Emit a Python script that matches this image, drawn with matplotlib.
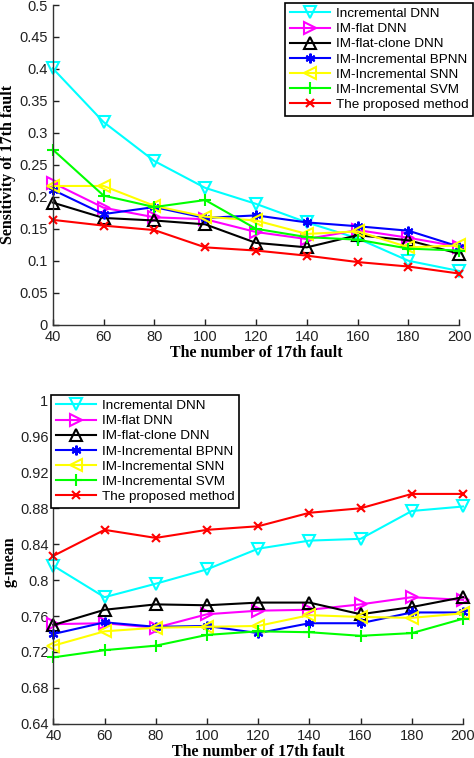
import matplotlib
matplotlib.use("Agg")
import matplotlib.pyplot as plt

x = [40, 60, 80, 100, 120, 140, 160, 180, 200]
methods = ["Incremental DNN", "IM-flat DNN", "IM-flat-clone DNN", "IM-Incremental BPNN",
           "IM-Incremental SNN", "IM-Incremental SVM", "The proposed method"]

sens_inc_dnn = [0.401, 0.317, 0.256, 0.214, 0.189, 0.160, 0.135, 0.100, 0.084]
sens_flat_dnn = [0.222, 0.183, 0.168, 0.165, 0.145, 0.134, 0.148, 0.136, 0.122]
sens_clone_dnn = [0.191, 0.167, 0.163, 0.157, 0.128, 0.121, 0.140, 0.132, 0.111]
sens_bpnn = [0.211, 0.173, 0.184, 0.167, 0.171, 0.160, 0.154, 0.147, 0.122]
sens_snn = [0.217, 0.217, 0.186, 0.169, 0.163, 0.142, 0.146, 0.121, 0.124]
sens_svm = [0.274, 0.202, 0.184, 0.195, 0.150, 0.137, 0.133, 0.119, 0.116]
sens_proposed = [0.164, 0.155, 0.148, 0.121, 0.116, 0.108, 0.098, 0.091, 0.080]

gm_inc_dnn = [0.816, 0.781, 0.796, 0.812, 0.835, 0.844, 0.846, 0.877, 0.882]
gm_flat_dnn = [0.751, 0.752, 0.747, 0.762, 0.766, 0.767, 0.773, 0.781, 0.778]
gm_clone_dnn = [0.750, 0.767, 0.773, 0.772, 0.775, 0.775, 0.762, 0.770, 0.781]
gm_bpnn = [0.740, 0.753, 0.748, 0.749, 0.741, 0.752, 0.752, 0.764, 0.764]
gm_snn = [0.727, 0.743, 0.747, 0.748, 0.749, 0.761, 0.759, 0.758, 0.763]
gm_svm = [0.714, 0.722, 0.727, 0.739, 0.743, 0.742, 0.738, 0.741, 0.757]
gm_proposed = [0.827, 0.856, 0.847, 0.856, 0.860, 0.875, 0.880, 0.896, 0.896]

sens_ticks = [0, 0.05, 0.1, 0.15, 0.2, 0.25, 0.3, 0.35, 0.4, 0.45, 0.5]
sens_ticklabels = ["0", "0.05", "0.1", "0.15", "0.2", "0.25", "0.3", "0.35", "0.4", "0.45", "0.5"]
gm_ticks = [0.64, 0.68, 0.72, 0.76, 0.80, 0.84, 0.88, 0.92, 0.96, 1.0]
gm_ticklabels = ["0.64", "0.68", "0.72", "0.76", "0.8", "0.84", "0.88", "0.92", "0.96", "1"]

colors = ["#00ffff", "#ff00ff", "#000000", "#0000ff", "#ffff00", "#00ff00", "#ff0000"]
markers = ["v", ">", "^", (6, 2, 0), "<", "+", "x"]
msizes = [9, 8, 9, 7, 9, 9, 6]

plt.rcParams["font.family"] = ["Liberation Sans", "DejaVu Sans"]

fig = plt.figure(figsize=(4.74, 7.58), dpi=100)
ax1 = fig.add_axes([0.1112, 0.5716, 0.8578, 0.4218])
ax2 = fig.add_axes([0.1125, 0.0451, 0.8643, 0.4265])

label_font = dict(family=["Liberation Serif", "DejaVu Serif"], weight="bold", size=11.5)


def draw(ax, series, yticks, yticklabels, ylim, ylabel):
    handles = []
    for s, c, m, ms, name in zip(series, colors, markers, msizes, methods):
        h, = ax.plot(x, s, color=c, marker=m, markersize=ms, markerfacecolor="none",
                     markeredgewidth=1.5, linewidth=1.5, label=name, clip_on=False)
        handles.append(h)
    ax.set_xlim(40, 200)
    ax.set_ylim(*ylim)
    ax.set_xticks(x)
    ax.set_xticklabels([str(v) for v in x])
    ax.set_yticks(yticks)
    ax.set_yticklabels(yticklabels)
    ax.tick_params(direction="in", labelsize=10.5, length=4, width=1, colors="#222222")
    ax.tick_params(axis="x", pad=4)
    for sp in ["top", "right"]:
        ax.spines[sp].set_visible(False)
    for sp in ["left", "bottom"]:
        ax.spines[sp].set_color("#333333")
        ax.spines[sp].set_linewidth(1.0)
    ax.set_xlabel("The number of 17th fault", fontdict=label_font, labelpad=0.5)
    ax.set_ylabel(ylabel, fontdict=label_font, labelpad=2)
    return handles


h1 = draw(ax1, [sens_inc_dnn, sens_flat_dnn, sens_clone_dnn, sens_bpnn, sens_snn, sens_svm, sens_proposed],
          sens_ticks, sens_ticklabels, (0, 0.5), "Sensitivity of 17th fault")
h2 = draw(ax2, [gm_inc_dnn, gm_flat_dnn, gm_clone_dnn, gm_bpnn, gm_snn, gm_svm, gm_proposed],
          gm_ticks, gm_ticklabels, (0.64, 1.0), "g-mean")

leg_kw = dict(fontsize=9.7, handlelength=3.0, handletextpad=0.4, labelspacing=0.2,
              borderpad=0.35, borderaxespad=0, fancybox=False, framealpha=1,
              edgecolor="black")
l1 = fig.legend(handles=h1, loc="upper right", bbox_to_anchor=(473 / 474, 1 - 3 / 758), **leg_kw)
l1.get_frame().set_linewidth(1.2)
l2 = fig.legend(handles=h2, loc="upper left", bbox_to_anchor=(51 / 474, 1 - 395 / 758), **leg_kw)
l2.get_frame().set_linewidth(1.2)

fig.savefig("out.png", dpi=100)
